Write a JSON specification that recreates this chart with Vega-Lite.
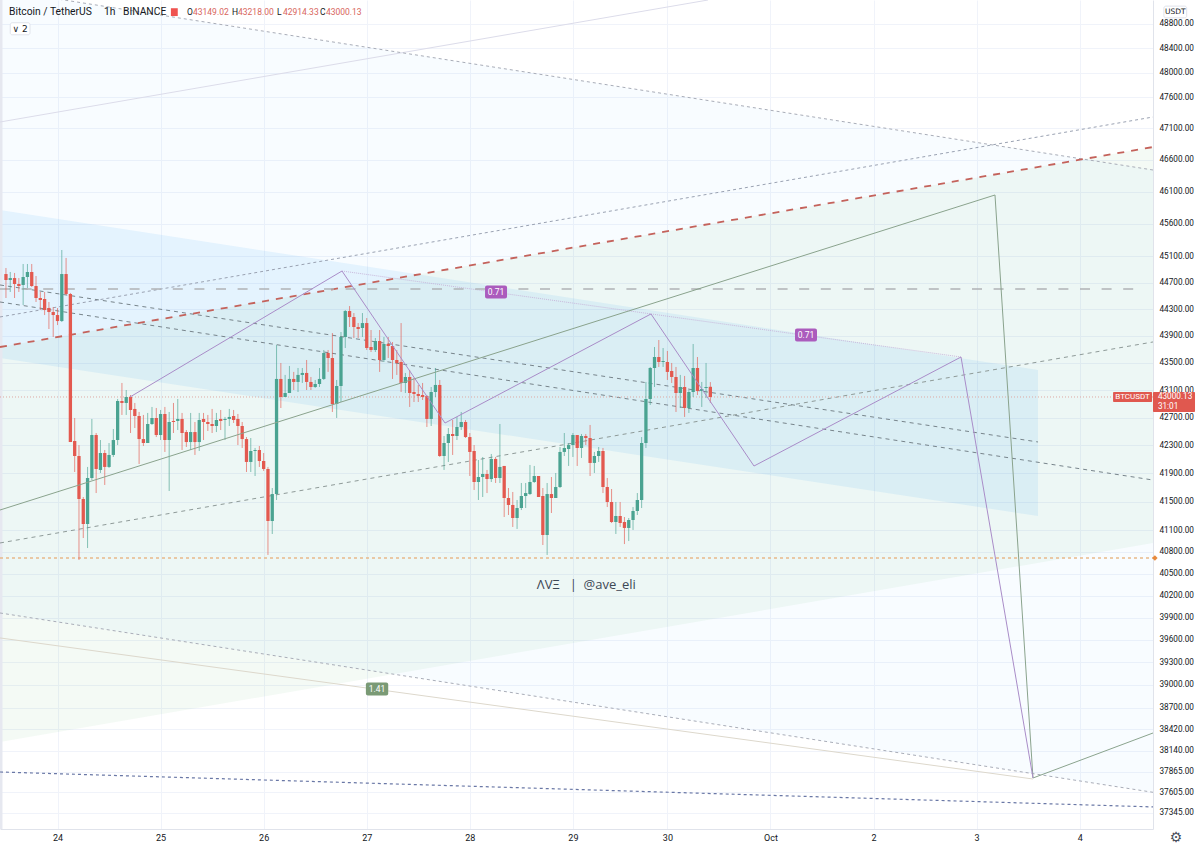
{
"$schema":"https://vega.github.io/schema/vega-lite/v6.json",
"description":"BTCUSDT 1h candles with projected channels and zigzag",
"width":1153,"height":829,
"autosize":{"type":"none"},
"padding":{"left":0,"top":0,"right":47,"bottom":19},
"background":"#ffffff",
"config":{"view":{"stroke":null}},
"datasets":{
"candles":[
{"t":-12,"o":44831,"h":44923,"l":44468,"c":44740},{"t":-11,"o":44740,"h":44862,"l":44559,"c":44770},{"t":-10,"o":44770,"h":44847,"l":44468,"c":44680},{"t":-9,"o":44680,"h":44770,"l":44559,"c":44649},{"t":-8,"o":44665,"h":44984,"l":44362,"c":44786},{"t":-7,"o":44786,"h":44984,"l":44619,"c":44862},{"t":-6,"o":44862,"h":44984,"l":44634,"c":44649},{"t":-5,"o":44649,"h":44801,"l":44408,"c":44468},{"t":-4,"o":44468,"h":44559,"l":44287,"c":44438},{"t":-3,"o":44453,"h":44559,"l":44212,"c":44287},{"t":-2,"o":44317,"h":44408,"l":44003,"c":44257},{"t":-1,"o":44257,"h":44332,"l":43884,"c":44212},
{"t":0,"o":44212,"h":44317,"l":44062,"c":44122},{"t":1,"o":44122,"h":45198,"l":44107,"c":44831},{"t":2,"o":44831,"h":45076,"l":44513,"c":44529},{"t":3,"o":44529,"h":44544,"l":42348,"c":42348},{"t":4,"o":42363,"h":42695,"l":41920,"c":42148},{"t":5,"o":42148,"h":42305,"l":40688,"c":41538},{"t":6,"o":41538,"h":41566,"l":40992,"c":41187},{"t":7,"o":41187,"h":41992,"l":40853,"c":41835},{"t":8,"o":41835,"h":42681,"l":41806,"c":42449},{"t":9,"o":42449,"h":42478,"l":41622,"c":41963},
{"t":10,"o":41949,"h":42377,"l":41906,"c":42191},{"t":11,"o":42191,"h":42234,"l":41736,"c":41992},{"t":12,"o":41992,"h":42334,"l":41977,"c":42163},{"t":13,"o":42163,"h":42536,"l":42134,"c":42377},{"t":14,"o":42377,"h":42971,"l":42305,"c":42942},{"t":15,"o":42942,"h":43205,"l":42739,"c":42913},{"t":16,"o":42913,"h":43102,"l":42739,"c":43000},{"t":17,"o":43000,"h":43029,"l":42478,"c":42811},{"t":18,"o":42826,"h":42913,"l":42550,"c":42724},{"t":19,"o":42724,"h":42782,"l":42034,"c":42391},
{"t":20,"o":42391,"h":42739,"l":42291,"c":42334},{"t":21,"o":42334,"h":42768,"l":42334,"c":42608},{"t":22,"o":42608,"h":42855,"l":42594,"c":42695},{"t":23,"o":42695,"h":42840,"l":42420,"c":42449},{"t":24,"o":42449,"h":42811,"l":42377,"c":42753},{"t":25,"o":42753,"h":42855,"l":42206,"c":42377},{"t":26,"o":42377,"h":42782,"l":41651,"c":42637},{"t":27,"o":42652,"h":42913,"l":42478,"c":42637},{"t":28,"o":42652,"h":42971,"l":42521,"c":42681},{"t":29,"o":42681,"h":42768,"l":42234,"c":42478},
{"t":30,"o":42492,"h":42521,"l":42277,"c":42348},{"t":31,"o":42348,"h":42768,"l":42234,"c":42492},{"t":32,"o":42492,"h":42637,"l":42163,"c":42348},{"t":33,"o":42348,"h":42768,"l":42220,"c":42666},{"t":34,"o":42681,"h":42768,"l":42377,"c":42637},{"t":35,"o":42637,"h":42739,"l":42507,"c":42608},{"t":36,"o":42608,"h":42826,"l":42478,"c":42579},{"t":37,"o":42579,"h":42768,"l":42492,"c":42666},{"t":38,"o":42681,"h":42811,"l":42521,"c":42652},{"t":39,"o":42666,"h":42710,"l":42377,"c":42681},
{"t":40,"o":42681,"h":42826,"l":42579,"c":42710},{"t":41,"o":42724,"h":42811,"l":42623,"c":42666},{"t":42,"o":42681,"h":42753,"l":42305,"c":42579},{"t":43,"o":42579,"h":42637,"l":42263,"c":42391},{"t":44,"o":42391,"h":42420,"l":41920,"c":42063},{"t":45,"o":42063,"h":42406,"l":41920,"c":42220},{"t":46,"o":42220,"h":42263,"l":41863,"c":42234},{"t":47,"o":42234,"h":42291,"l":41992,"c":42077},{"t":48,"o":42077,"h":42191,"l":41935,"c":41963},{"t":49,"o":41963,"h":41992,"l":40757,"c":41229},
{"t":50,"o":41229,"h":41693,"l":41048,"c":41608},{"t":51,"o":41608,"h":43765,"l":41524,"c":43264},{"t":52,"o":43264,"h":43499,"l":42840,"c":43000},{"t":53,"o":43000,"h":43323,"l":43000,"c":43058},{"t":54,"o":43058,"h":43455,"l":43058,"c":43264},{"t":55,"o":43264,"h":43367,"l":43102,"c":43220},{"t":56,"o":43220,"h":43425,"l":43073,"c":43323},{"t":57,"o":43323,"h":43425,"l":43205,"c":43352},{"t":58,"o":43352,"h":43543,"l":43102,"c":43220},{"t":59,"o":43220,"h":43293,"l":43102,"c":43146},
{"t":60,"o":43146,"h":43249,"l":43132,"c":43190},{"t":61,"o":43190,"h":43425,"l":43146,"c":43264},{"t":62,"o":43264,"h":43691,"l":43249,"c":43646},{"t":63,"o":43646,"h":43691,"l":43367,"c":43572},{"t":64,"o":43572,"h":43943,"l":42782,"c":42898},{"t":65,"o":42898,"h":43249,"l":42695,"c":43161},{"t":66,"o":43161,"h":43958,"l":42927,"c":43884},{"t":67,"o":43884,"h":44287,"l":43720,"c":44272},{"t":68,"o":44272,"h":44347,"l":44033,"c":44182},{"t":69,"o":44182,"h":44242,"l":43869,"c":44033},
{"t":70,"o":44033,"h":44092,"l":43869,"c":44003},{"t":71,"o":44018,"h":44242,"l":43884,"c":44092},{"t":72,"o":44092,"h":44167,"l":43691,"c":43720},{"t":73,"o":43735,"h":43988,"l":43661,"c":43691},{"t":74,"o":43691,"h":43869,"l":43661,"c":43824},{"t":75,"o":43824,"h":43988,"l":43367,"c":43543},{"t":76,"o":43543,"h":43884,"l":43513,"c":43780},{"t":77,"o":43780,"h":43884,"l":43572,"c":43750},{"t":78,"o":43750,"h":43809,"l":43264,"c":43543},{"t":79,"o":43543,"h":43691,"l":43323,"c":43499},
{"t":80,"o":43513,"h":44092,"l":43073,"c":43205},{"t":81,"o":43205,"h":43352,"l":43058,"c":43293},{"t":82,"o":43293,"h":43396,"l":42855,"c":43058},{"t":83,"o":43073,"h":43279,"l":42927,"c":43044},{"t":84,"o":43044,"h":43176,"l":42927,"c":43015},{"t":85,"o":43029,"h":43205,"l":42956,"c":43000},{"t":86,"o":43015,"h":43029,"l":42565,"c":42681},{"t":87,"o":42681,"h":43146,"l":42579,"c":43073},{"t":88,"o":43073,"h":43425,"l":43000,"c":43176},{"t":89,"o":43176,"h":43249,"l":42134,"c":42148},
{"t":90,"o":42148,"h":42435,"l":41949,"c":42334},{"t":91,"o":42334,"h":42550,"l":42063,"c":42464},{"t":92,"o":42464,"h":42666,"l":42163,"c":42435},{"t":93,"o":42435,"h":42710,"l":42377,"c":42565},{"t":94,"o":42565,"h":42782,"l":42521,"c":42637},{"t":95,"o":42637,"h":42666,"l":42406,"c":42420},{"t":96,"o":42420,"h":42478,"l":41863,"c":42206},{"t":97,"o":42220,"h":42305,"l":41665,"c":41778},{"t":98,"o":41778,"h":42091,"l":41524,"c":41849},{"t":99,"o":41849,"h":42134,"l":41566,"c":41892},
{"t":100,"o":41892,"h":41949,"l":41622,"c":41820},{"t":101,"o":41820,"h":42177,"l":41778,"c":42106},{"t":102,"o":42106,"h":42134,"l":41764,"c":41835},{"t":103,"o":41835,"h":42608,"l":41764,"c":41992},{"t":104,"o":42006,"h":42006,"l":41285,"c":41552},{"t":105,"o":41552,"h":41693,"l":41313,"c":41454},{"t":106,"o":41454,"h":41637,"l":41146,"c":41271},{"t":107,"o":41271,"h":41524,"l":41118,"c":41411},{"t":108,"o":41411,"h":41764,"l":41383,"c":41580},{"t":109,"o":41580,"h":41764,"l":41411,"c":41622},
{"t":110,"o":41608,"h":42020,"l":41594,"c":41778},{"t":111,"o":41778,"h":42006,"l":41764,"c":41863},{"t":112,"o":41863,"h":41863,"l":41566,"c":41566},{"t":113,"o":41580,"h":41693,"l":40895,"c":41034},{"t":114,"o":41034,"h":41764,"l":40757,"c":41608},{"t":115,"o":41608,"h":41849,"l":41341,"c":41552},{"t":116,"o":41552,"h":41906,"l":41552,"c":41707},{"t":117,"o":41707,"h":42277,"l":41693,"c":42206},{"t":118,"o":42206,"h":42478,"l":42148,"c":42263},{"t":119,"o":42248,"h":42334,"l":42006,"c":42305},
{"t":120,"o":42305,"h":42478,"l":42134,"c":42449},{"t":121,"o":42449,"h":42449,"l":42006,"c":42263},{"t":122,"o":42263,"h":42464,"l":42120,"c":42435},{"t":123,"o":42435,"h":42464,"l":42305,"c":42406},{"t":124,"o":42406,"h":42594,"l":41863,"c":42049},{"t":125,"o":42049,"h":42206,"l":41906,"c":42148},{"t":126,"o":42148,"h":42277,"l":42063,"c":42220},{"t":127,"o":42220,"h":42263,"l":41622,"c":41707},{"t":128,"o":41707,"h":41835,"l":41425,"c":41496},{"t":129,"o":41496,"h":41679,"l":41201,"c":41215},
{"t":130,"o":41215,"h":41496,"l":41048,"c":41299},{"t":131,"o":41299,"h":41496,"l":41146,"c":41201},{"t":132,"o":41215,"h":41285,"l":40908,"c":41132},{"t":133,"o":41132,"h":41271,"l":40950,"c":41243},{"t":134,"o":41243,"h":41425,"l":41104,"c":41369},{"t":135,"o":41369,"h":41622,"l":41313,"c":41524},{"t":136,"o":41524,"h":42420,"l":41411,"c":42334},{"t":137,"o":42334,"h":43220,"l":42263,"c":42971},{"t":138,"o":42971,"h":43440,"l":42884,"c":43425},{"t":139,"o":43425,"h":43735,"l":43146,"c":43587},
{"t":140,"o":43587,"h":43839,"l":43440,"c":43513},{"t":141,"o":43513,"h":43720,"l":43440,"c":43528},{"t":142,"o":43513,"h":43676,"l":43249,"c":43367},{"t":143,"o":43381,"h":43499,"l":43205,"c":43293},{"t":144,"o":43293,"h":43440,"l":42782,"c":43058},{"t":145,"o":43058,"h":43323,"l":42840,"c":43146},{"t":146,"o":43146,"h":43308,"l":42710,"c":42840},{"t":147,"o":42840,"h":43102,"l":42768,"c":43073},{"t":148,"o":43073,"h":43780,"l":43000,"c":43425},{"t":149,"o":43425,"h":43587,"l":43029,"c":43087},
{"t":150,"o":43087,"h":43220,"l":42855,"c":43117},{"t":151,"o":43132,"h":43499,"l":42985,"c":43146},{"t":152,"o":43149,"h":43218,"l":42914,"c":43000}
]},
"encoding":{
"x":{"field":"t","type":"quantitative","title":null,
"scale":{"type":"linear","domain":[-13.388,255.06],"nice":false,"zero":false},
"axis":{"orient":"bottom","values":[0,24,48,72,96,120,142,166,190,214,238],
"labelExpr":"datum.value==142?'30':datum.value==166?'Oct':datum.value==190?'2':datum.value==214?'3':datum.value==238?'4':format(24+datum.value/24,'d')",
"ticks":false,"labelFont":"Roboto","labelFontSize":9,"labelColor":"#131722","labelPadding":4,"domainColor":"#e0e3eb","grid":true,"gridColor":"#f0f3fa","labelOverlap":false}},
"y":{"field":"p","type":"quantitative","title":null,
"scale":{"type":"log","domain":[37140,49197],"nice":false,"zero":false},
"axis":{"orient":"right","values":[48800,48400,48000,47600,47100,46600,46100,45600,45100,44700,44300,43900,43500,43100,42700,42300,41900,41500,41100,40800,40500,40200,39900,39600,39300,39000,38700,38420,38140,37865,37605,37345],
"format":".2f","ticks":false,"labelFont":"Roboto","labelFontSize":8.2,"labelColor":"#131722","labelPadding":6,"domainColor":"#e0e3eb","grid":true,"gridColor":"#f0f3fa","labelOverlap":false,"labelBound":false,"labelFlush":false}}
},
"layer":[
{"data":{"values":[{"t":-13.388,"p":49364,"p2":39963},{"t":255.06,"p":46441,"p2":37605}]},
"mark":{"type":"area","clip":true,"fill":"#2196f3","fillOpacity":0.03},
"encoding":{"y2":{"field":"p2"}}},
{"data":{"values":[{"t":-13.388,"p":43735,"p2":38252},{"t":255.06,"p":46804,"p2":40923}]},
"mark":{"type":"area","clip":true,"fill":"#4caf50","fillOpacity":0.06},
"encoding":{"y2":{"field":"p2"}}},
{"data":{"values":[{"t":-13.388,"p":45815,"p2":43572},{"t":228.29,"p":43396,"p2":41299}]},
"mark":{"type":"area","clip":true,"fill":"#2196f3","fillOpacity":0.09},
"encoding":{"y2":{"field":"p2"}}},
{"data":{"values":[{"t":-13.1,"p":49197},{"t":-13.1,"p":37140}]},
"mark":{"type":"line","stroke":"#e6e8f0","strokeWidth":2.5}},
{"data":{"values":[{"t":-13.388,"p":47203},{"t":151.45,"p":49197}]},
"mark":{"type":"line","clip":true,"stroke":"#dcdcea","strokeWidth":1}},
{"data":{"values":[{"t":-13.388,"p":39626},{"t":227.12,"p":37775}]},
"mark":{"type":"line","clip":true,"stroke":"#ddd8cc","strokeWidth":1}},
{"data":{"values":[{"t":66.24,"p":44877},{"t":210.36,"p":43587}]},
"mark":{"type":"line","clip":true,"stroke":"#c9b8dc","strokeWidth":1,"strokeDash":[1,1]}},
{"data":{"values":[{"t":-13.388,"p":49364},{"t":255.06,"p":46441}]},
"mark":{"type":"line","clip":true,"stroke":"#a9adb8","strokeWidth":1,"strokeDash":[3,3]}},
{"data":{"values":[{"t":-13.388,"p":39963},{"t":255.06,"p":37605}]},
"mark":{"type":"line","clip":true,"stroke":"#a9adb8","strokeWidth":1,"strokeDash":[3,3]}},
{"data":{"values":[{"t":-13.388,"p":44183},{"t":255.06,"p":47283}]},
"mark":{"type":"line","clip":true,"stroke":"#9aa2b2","strokeWidth":1,"strokeDash":[3,3]}},
{"data":{"values":[{"t":-13.388,"p":40923},{"t":255.06,"p":43810}]},
"mark":{"type":"line","clip":true,"stroke":"#8e9a98","strokeWidth":1,"strokeDash":[4,4]}},
{"data":{"values":[{"t":-13.388,"p":37865},{"t":255.06,"p":37419}]},
"mark":{"type":"line","clip":true,"stroke":"#6a78a6","strokeWidth":1.2,"strokeDash":[3,3]}},
{"data":{"values":[{"t":-13.388,"p":44665},{"t":228.29,"p":42349}]},
"mark":{"type":"line","clip":true,"stroke":"#77848b","strokeWidth":1,"strokeDash":[4,4]}},
{"data":{"values":[{"t":-13.388,"p":44408},{"t":255.06,"p":41806}]},
"mark":{"type":"line","clip":true,"stroke":"#77848b","strokeWidth":1,"strokeDash":[4,4]}},
{"data":{"values":[{"t":-13.388,"p":43735},{"t":255.06,"p":46804}]},
"mark":{"type":"line","clip":true,"stroke":"#c4625b","strokeWidth":1.8,"strokeDash":[7,7]}},
{"data":{"values":[{"t":-13.388,"p":44604},{"t":253,"p":44604}]},
"mark":{"type":"line","clip":true,"stroke":"#b0b3b5","strokeWidth":1.5,"strokeDash":[10,11.6]}},
{"data":{"values":[{"t":-13.388,"p":40715},{"t":255.06,"p":40715}]},
"mark":{"type":"line","clip":true,"stroke":"#e8b98a","strokeWidth":1.5,"strokeDash":[3,3]}},
{"data":{"values":[{"t":-13.388,"p":43000},{"t":255.06,"p":43000}]},
"mark":{"type":"line","clip":true,"stroke":"#dfa8a2","strokeWidth":1,"strokeDash":[1,2]}},
{"data":{"name":"candles"},
"mark":{"type":"rule","strokeWidth":1,"opacity":0.65},
"encoding":{"y":{"field":"h","type":"quantitative","title":null,"scale":{"type":"log"}},"y2":{"field":"l"},
"color":{"condition":{"test":"datum.c>=datum.o","value":"#4aa391"},"value":"#e3594f"}}},
{"data":{"name":"candles"},
"mark":{"type":"rule","strokeWidth":3.3},
"encoding":{"y":{"field":"o","type":"quantitative","title":null,"scale":{"type":"log"}},"y2":{"field":"c"},
"color":{"condition":{"test":"datum.c>=datum.o","value":"#4aa391"},"value":"#e3594f"}}},
{"data":{"values":[{"t":-13.388,"p":41383},{"t":218.27,"p":46049},{"t":227.12,"p":37788},{"t":255.06,"p":38369}]},
"mark":{"type":"line","clip":true,"stroke":"#8aa38d","strokeWidth":1}},
{"data":{"values":[{"t":16.88,"p":43000},{"t":66.24,"p":44877},{"t":90.22,"p":42622},{"t":138.18,"p":44228},{"t":162.16,"p":42005},{"t":210.36,"p":43587},{"t":227.12,"p":37788}]},
"mark":{"type":"line","clip":true,"stroke":"#a98cc8","strokeWidth":1}},
{"data":{"values":[{"t":99.54,"t2":104.66,"p":44657,"p2":44460},{"t":171.71,"t2":176.83,"p":44010,"p2":43817}]},
"mark":{"type":"rect","fill":"#ab5cbd","cornerRadius":2},
"encoding":{"x2":{"field":"t2"},"y2":{"field":"p2"}}},
{"data":{"values":[{"t":71.8,"t2":77,"p":39032,"p2":38860}]},
"mark":{"type":"rect","fill":"#7a9a75","cornerRadius":2},
"encoding":{"x2":{"field":"t2"},"y2":{"field":"p2"}}},
{"data":{"values":[{"t":245.76,"t2":254.84,"p":43073,"p2":42927},{"t":255.06,"t2":264.84,"p":43073,"p2":42782}]},
"mark":{"type":"rect","fill":"#e0584f","cornerRadius":1},
"encoding":{"x2":{"field":"t2"},"y2":{"field":"p2"}}},
{"data":{"values":[{"t":26.4,"t2":28,"p":49060,"p2":48930}]},
"mark":{"type":"rect","fill":"#ef5350"},
"encoding":{"x2":{"field":"t2"},"y2":{"field":"p2"}}},
{"data":{"values":[{"t":-11,"t2":-6.4,"p":48819,"p2":48620},{"t":257.6,"t2":262.9,"p":49095,"p2":48900}]},
"mark":{"type":"rect","fill":"#ffffff","stroke":"#e0e3eb","cornerRadius":2},
"encoding":{"x2":{"field":"t2"},"y2":{"field":"p2"}}},
{"data":{"values":[{"t":255.5,"p":40715}]},
"mark":{"type":"point","shape":"diamond","filled":true,"size":30,"color":"#e88a3c","opacity":1}},
{"data":{"values":[{"t":-11.29,"p":48997,"label":"Bitcoin / TetherUS"},{"t":10.83,"p":48997,"label":"1h"},{"t":15.25,"p":48997,"label":"BINANCE"}]},
"mark":{"type":"text","align":"left","baseline":"middle","font":"Roboto","fontSize":10.3,"color":"#131722"},
"encoding":{"text":{"field":"label"}}},
{"data":{"values":[{"t":30.15,"p":48990,"label":"O"},{"t":40.63,"p":48990,"label":"H"},{"t":51.11,"p":48990,"label":"L"},{"t":61.12,"p":48990,"label":"C"}]},
"mark":{"type":"text","align":"left","baseline":"middle","font":"Roboto","fontSize":8.5,"color":"#131722"},
"encoding":{"text":{"field":"label"}}},
{"data":{"values":[{"t":31.55,"p":48990,"label":"43149.02"},{"t":42.03,"p":48990,"label":"43218.00"},{"t":52.5,"p":48990,"label":"42914.33"},{"t":62.5,"p":48990,"label":"43000.13"}]},
"mark":{"type":"text","align":"left","baseline":"middle","font":"Roboto","fontSize":8.5,"color":"#d8655c"},
"encoding":{"text":{"field":"label"}}},
{"data":{"values":[{"t":-8.7,"p":48720,"label":"∨ 2"}]},
"mark":{"type":"text","align":"center","baseline":"middle","font":"DejaVu Sans","fontSize":9,"color":"#131722"},
"encoding":{"text":{"field":"label"}}},
{"data":{"values":[{"t":260.25,"p":48997,"label":"USDT"}]},
"mark":{"type":"text","align":"center","baseline":"middle","font":"DejaVu Sans","fontSize":7.5,"color":"#131722"},
"encoding":{"text":{"field":"label"}}},
{"data":{"values":[{"t":102.1,"p":44559,"label":"0.71"},{"t":174.27,"p":43913,"label":"0.71"},{"t":74.39,"p":38946,"label":"1.41"}]},
"mark":{"type":"text","align":"center","baseline":"middle","font":"Roboto","fontSize":8.5,"color":"#ffffff"},
"encoding":{"text":{"field":"label"}}},
{"data":{"values":[{"t":250.3,"p":43000,"label":"BTCUSDT"}]},
"mark":{"type":"text","align":"center","baseline":"middle","font":"Roboto","fontSize":8,"color":"#ffffff"},
"encoding":{"text":{"field":"label"}}},
{"data":{"values":[{"t":256.2,"p":43000,"label":"43000.13"},{"t":256.2,"p":42854,"label":"31:01"}]},
"mark":{"type":"text","align":"left","baseline":"middle","font":"Roboto","fontSize":8.2,"color":"#ffffff"},
"encoding":{"text":{"field":"label"}}},
{"data":{"values":[{"t":111.6,"p":40344,"label":"ΛVΞ\u00a0\u00a0\u00a0|\u00a0\u00a0@ave_eli"}]},
"mark":{"type":"text","align":"left","baseline":"middle","font":"Open Sans","fontSize":13,"color":"#3d4855"},
"encoding":{"text":{"field":"label"}}},
{"data":{"values":[{"t":260.4,"p":37028,"label":"⚙"}]},
"mark":{"type":"text","align":"center","baseline":"middle","font":"DejaVu Sans","fontSize":14,"color":"#4a4f5c"},
"encoding":{"text":{"field":"label"}}}
]
}
